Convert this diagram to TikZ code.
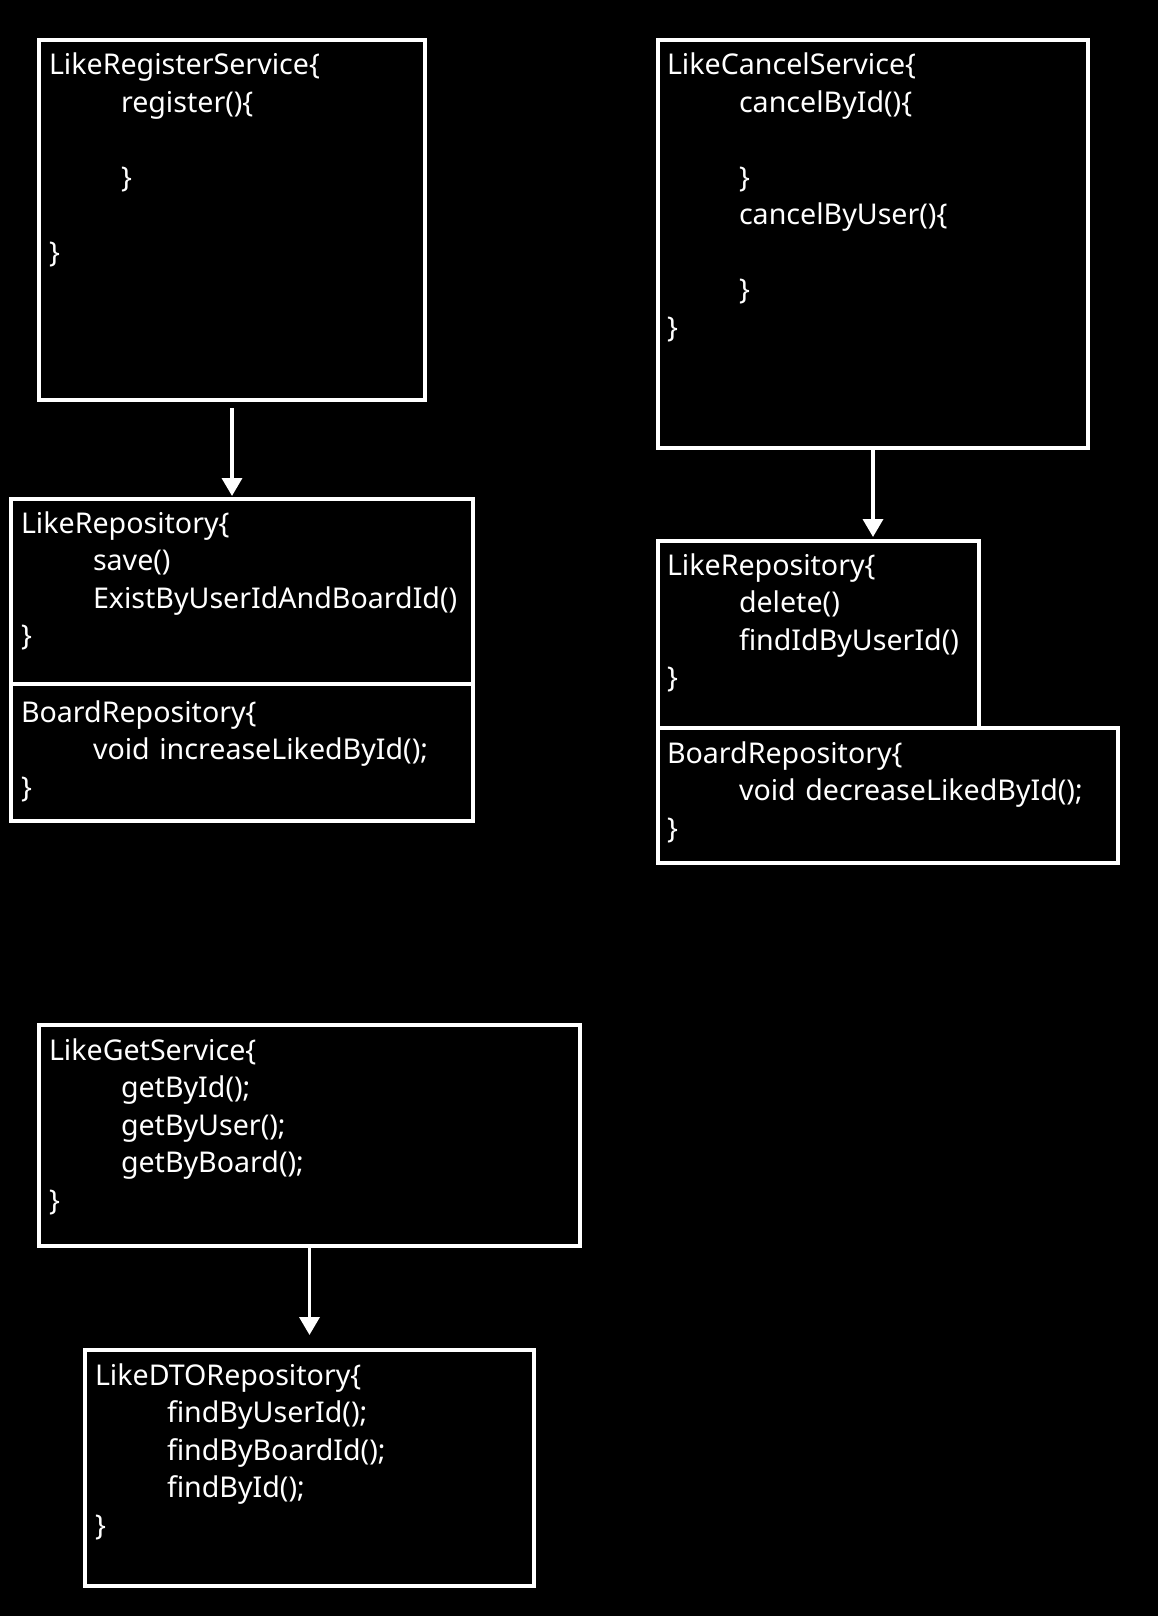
\documentclass[tikz,border=0pt]{standalone}
\usepackage{fontspec}
\setmainfont{Noto Sans}
\usetikzlibrary{arrows.meta}
\begin{document}
\begin{tikzpicture}[x=1pt,y=-1pt,
  box/.style={draw=white,line width=4pt,fill=black,rectangle,anchor=north west,inner sep=0pt,outer sep=0pt},
  code/.style={text=white,anchor=base west,inner sep=0pt,outer sep=0pt,text width=500pt,align=left,
    font=\fontsize{28.6}{37.5}\selectfont},
  arr/.style={draw=white,line width=3.5pt,-{Triangle[width=20pt,length=18pt]}}]
\fill[black] (0,0) rectangle (1158,1616);
\useasboundingbox (0,0) rectangle (1158,1616);
\newcommand{\ind}{\hspace*{72pt}}
% boxes
\node[box,minimum width=386pt,minimum height=360pt] (svc1) at (39,40) {};
\node[box,minimum width=462pt,minimum height=185pt] (repo1) at (11,499) {};
\node[box,minimum width=462pt,minimum height=137pt] (board1) at (11,684) {};
\node[box,minimum width=430pt,minimum height=408pt] (svc2) at (658,40) {};
\node[box,minimum width=321pt,minimum height=187pt] (repo2) at (658,541) {};
\node[box,minimum width=460pt,minimum height=135pt] (board2) at (658,728) {};
\node[box,minimum width=541pt,minimum height=221pt] (svc3) at (39,1025) {};
\node[box,minimum width=449pt,minimum height=236pt] (dto) at (85,1350) {};
% texts
\node[code] (t1) at (49,75) {LikeRegisterService\{\\\ind register()\{\\\mbox{}\\\ind\}\\\mbox{}\\\}};
\node[code] (t2) at (21,533) {LikeRepository\{\\\ind save()\\\ind ExistByUserIdAndBoardId()\\\}};
\node[code] (t3) at (21,722) {BoardRepository\{\\\ind void increaseLikedById();\\\}};
\node[code] (t4) at (667,75) {LikeCancelService\{\\\ind cancelById()\{\\\mbox{}\\\ind\}\\\ind cancelByUser()\{\\\mbox{}\\\ind\}\\\}};
\node[code] (t5) at (667,575) {LikeRepository\{\\\ind delete()\\\ind findIdByUserId()\\\}};
\node[code] (t6) at (667,763) {BoardRepository\{\\\ind void decreaseLikedById();\\\}};
\node[code] (t7) at (49,1060) {LikeGetService\{\\\ind getById();\\\ind getByUser();\\\ind getByBoard();\\\}};
\node[code] (t8) at (95,1385) {LikeDTORepository\{\\\ind findByUserId();\\\ind findByBoardId();\\\ind findById();\\\}};
% arrows
\draw[arr,shorten <=8pt,shorten >=3pt] (svc1.south) -- (svc1.south |- repo1.north);
\draw[arr,shorten >=4pt] (svc2.south) -- (svc2.south |- repo2.north);
\draw[arr,shorten >=15pt] (svc3.south) -- (svc3.south |- dto.north);
\end{tikzpicture}
\end{document}
